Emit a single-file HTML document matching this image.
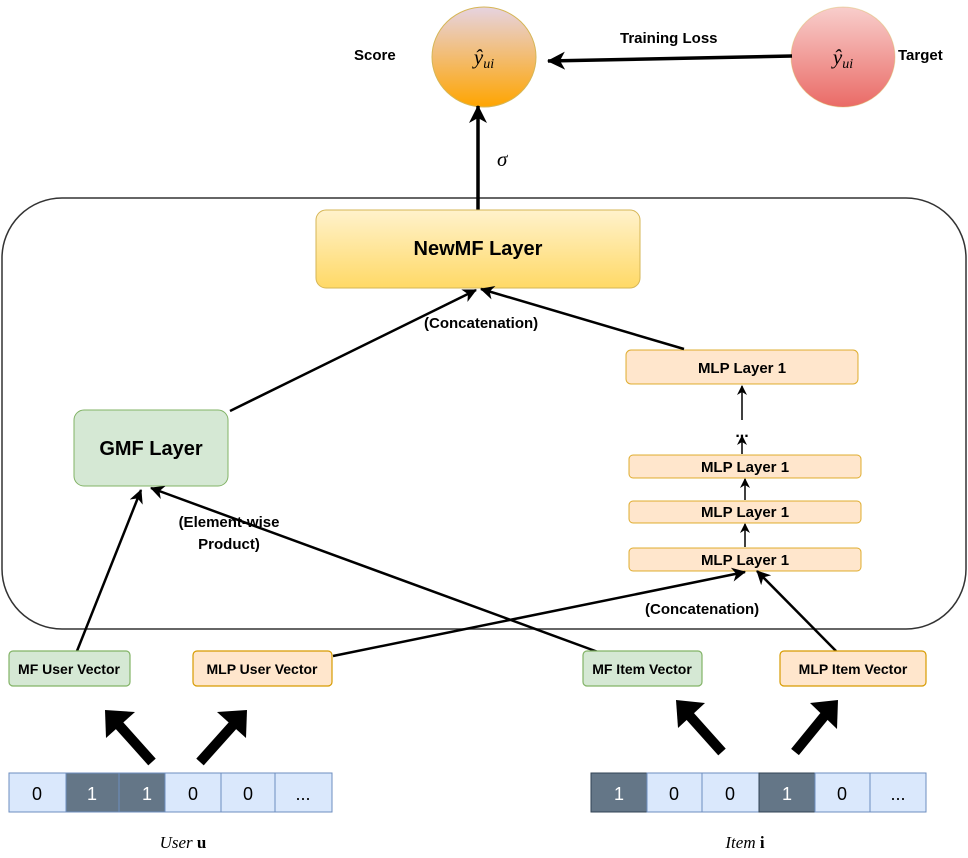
<!DOCTYPE html>
<html><head><meta charset="utf-8"><style>
body{margin:0;background:#fff;}
svg text{font-family:"Liberation Sans",sans-serif;}
.b{font-weight:bold;}
.m{font-family:"Liberation Serif",serif;font-style:italic;font-weight:normal;}
</style></head><body>
<svg width="968" height="853" viewBox="0 0 968 853" xmlns="http://www.w3.org/2000/svg">
<defs>
<linearGradient id="gs" x1="0" y1="0" x2="0" y2="1"><stop offset="0" stop-color="#e6d3e0"/><stop offset="1" stop-color="#ffa500"/></linearGradient>
<linearGradient id="gt" x1="0" y1="0" x2="0" y2="1"><stop offset="0" stop-color="#f8cecc"/><stop offset="1" stop-color="#ea6b66"/></linearGradient>
<linearGradient id="gn" x1="0" y1="0" x2="0" y2="1"><stop offset="0" stop-color="#fff2cc"/><stop offset="1" stop-color="#ffd966"/></linearGradient>
<marker id="a" markerWidth="10" markerHeight="10" refX="9" refY="5" orient="auto" markerUnits="userSpaceOnUse"><path d="M0,0 L10,5 L0,10 L3,5 Z" fill="#000"/></marker>
<marker id="am" markerWidth="14" markerHeight="14" refX="13" refY="7" orient="auto" markerUnits="userSpaceOnUse"><path d="M0,0 L14,7 L0,14 L4,7 Z" fill="#000"/></marker>
<marker id="ab" markerWidth="18" markerHeight="18" refX="17" refY="9" orient="auto" markerUnits="userSpaceOnUse"><path d="M0,0 L18,9 L0,18 L5,9 Z" fill="#000"/></marker>
</defs>
<rect x="2" y="198" width="964" height="431" rx="60" fill="none" stroke="#333" stroke-width="1.5"/>
<ellipse cx="484" cy="57" rx="52" ry="50" fill="url(#gs)" stroke="#d6b656"/>
<ellipse cx="843" cy="57" rx="52" ry="50" fill="url(#gt)" stroke="#d6b656" stroke-opacity="0.4"/>
<text class="b" x="354" y="60" font-size="15">Score</text>
<text class="b" x="898" y="60" font-size="15">Target</text>
<text class="b" x="620" y="43" font-size="15">Training Loss</text>
<text class="m" x="484" y="64" font-size="21" text-anchor="middle">ŷ<tspan font-size="14" dy="4">ui</tspan></text>
<text class="m" x="843" y="64" font-size="21" text-anchor="middle">ŷ<tspan font-size="14" dy="4">ui</tspan></text>
<line x1="792" y1="56" x2="548" y2="61" stroke="#000" stroke-width="3.5" marker-end="url(#ab)"/>
<line x1="478" y1="210" x2="478" y2="106" stroke="#000" stroke-width="3.5" marker-end="url(#ab)"/>
<text class="m" x="497" y="166" font-size="21">σ</text>
<rect x="316" y="210" width="324" height="78" rx="10" fill="url(#gn)" stroke="#d6b656"/>
<text class="b" x="478" y="255" font-size="20" text-anchor="middle">NewMF Layer</text>
<rect x="74" y="410" width="154" height="76" rx="10" fill="#d5e8d4" stroke="#82b366"/>
<text class="b" x="151" y="455" font-size="20" text-anchor="middle">GMF Layer</text>
<g fill="#ffe6cc" stroke="#d79b00" stroke-opacity="0.8">
<rect x="626" y="350" width="232" height="34" rx="5"/>
<rect x="629" y="455" width="232" height="23" rx="4"/>
<rect x="629" y="501" width="232" height="22" rx="4"/>
<rect x="629" y="548" width="232" height="23" rx="4"/>
</g>
<g class="b" font-size="15" text-anchor="middle">
<text x="742" y="373">MLP Layer 1</text>
<text x="745" y="472">MLP Layer 1</text>
<text x="745" y="517">MLP Layer 1</text>
<text x="745" y="565">MLP Layer 1</text>
<text x="742" y="437" font-size="16">...</text>
</g>
<g stroke="#000" stroke-width="1.5" marker-end="url(#a)">
<line x1="742" y1="420" x2="742" y2="386"/>
<line x1="742" y1="454" x2="742" y2="436"/>
<line x1="745" y1="500" x2="745" y2="479"/>
<line x1="745" y1="547" x2="745" y2="524"/>
</g>
<g stroke="#000" stroke-width="2.5" marker-end="url(#am)">
<line x1="230" y1="411" x2="476" y2="290"/>
<line x1="684" y1="349" x2="481" y2="289"/>
<line x1="77" y1="651" x2="141" y2="490"/>
<line x1="598" y1="652" x2="151" y2="488"/>
<line x1="333" y1="656" x2="745" y2="572"/>
<line x1="836" y1="651" x2="757" y2="571"/>
</g>
<text class="b" x="424" y="328" font-size="15">(Concatenation)</text>
<text class="b" x="645" y="614" font-size="15">(Concatenation)</text>
<text class="b" x="229" y="527" font-size="15" text-anchor="middle">(Element-wise</text>
<text class="b" x="229" y="549" font-size="15" text-anchor="middle">Product)</text>
<g stroke-width="1.2">
<rect x="9" y="651" width="121" height="35" rx="4" fill="#d5e8d4" stroke="#82b366"/>
<rect x="193" y="651" width="139" height="35" rx="4" fill="#ffe6cc" stroke="#d79b00"/>
<rect x="583" y="651" width="119" height="35" rx="4" fill="#d5e8d4" stroke="#82b366"/>
<rect x="780" y="651" width="146" height="35" rx="4" fill="#ffe6cc" stroke="#d79b00"/>
</g>
<g class="b" font-size="14" text-anchor="middle">
<text x="69" y="674">MF User Vector</text>
<text x="262" y="674">MLP User Vector</text>
<text x="642" y="674">MF Item Vector</text>
<text x="853" y="674">MLP Item Vector</text>
</g>
<g stroke="#000" stroke-width="10">
<line x1="152" y1="762" x2="118" y2="724"/>
<line x1="200" y1="762" x2="234" y2="724"/>
<line x1="722" y1="752" x2="688" y2="714"/>
<line x1="795" y1="752" x2="826" y2="714"/>
</g>
<g fill="#000">
<polygon points="105,710 135,712 106,738"/>
<polygon points="247,710 246,738 217,712"/>
<polygon points="676,700 705,703 678,728"/>
<polygon points="838,700 837,729 810,703"/>
</g>
<g stroke="#6c8ebf" stroke-width="1">
<rect x="9" y="773" width="57" height="39" fill="#dae8fc"/>
<rect x="66" y="773" width="53" height="39" fill="#647687"/>
<rect x="119" y="773" width="46" height="39" fill="#647687"/>
<rect x="165" y="773" width="56" height="39" fill="#dae8fc"/>
<rect x="221" y="773" width="54" height="39" fill="#dae8fc"/>
<rect x="275" y="773" width="57" height="39" fill="#dae8fc"/>
<rect x="591" y="773" width="56" height="39" fill="#647687" stroke="#314354"/>
<rect x="647" y="773" width="55" height="39" fill="#dae8fc"/>
<rect x="702" y="773" width="57" height="39" fill="#dae8fc"/>
<rect x="759" y="773" width="56" height="39" fill="#647687" stroke="#314354"/>
<rect x="815" y="773" width="55" height="39" fill="#dae8fc"/>
<rect x="870" y="773" width="56" height="39" fill="#dae8fc"/>
</g>
<g font-size="18" text-anchor="middle">
<text x="37" y="800">0</text>
<text x="92" y="800" fill="#fff">1</text>
<text x="147" y="800" fill="#fff">1</text>
<text x="193" y="800">0</text>
<text x="248" y="800">0</text>
<text x="303" y="800">...</text>
<text x="619" y="800" fill="#fff">1</text>
<text x="674" y="800">0</text>
<text x="730" y="800">0</text>
<text x="787" y="800" fill="#fff">1</text>
<text x="842" y="800">0</text>
<text x="898" y="800">...</text>
</g>
<text class="m" x="183" y="848" font-size="17" text-anchor="middle">User <tspan style="font-style:normal;font-weight:bold">u</tspan></text>
<text class="m" x="745" y="848" font-size="17" text-anchor="middle">Item <tspan style="font-style:normal;font-weight:bold">i</tspan></text>
</svg>
</body></html>
